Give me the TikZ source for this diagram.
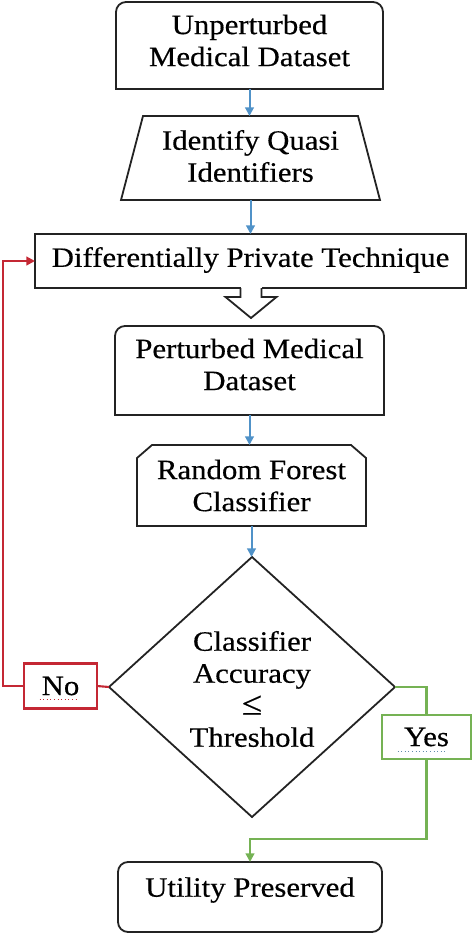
\documentclass[tikz,border=0pt]{standalone}
\usepackage{fontspec}
\setmainfont{Liberation Serif}[FakeStretch=1.1,FakeBold=0.4]
\usetikzlibrary{arrows.meta,calc}
\definecolor{flowblue}{RGB}{80,146,200}
\definecolor{flowred}{RGB}{196,40,52}
\definecolor{flowgreen}{RGB}{117,178,84}
\definecolor{edge}{RGB}{35,35,35}
\begin{document}
\begin{tikzpicture}[x=0.75pt,y=-0.75pt,
  frame/.style={draw=none,rectangle,inner sep=0pt,outer sep=0pt},
  txt/.style={inner sep=0pt,outer sep=0pt,align=center,
     font=\fontsize{21pt}{24pt}\selectfont},
  outline/.style={draw=edge,line width=1.35pt,line join=miter,line cap=rect},
  blueconn/.style={draw=flowblue,line width=1.5pt,-{Triangle[length=6.5pt,width=6.5pt]}},
  redconn/.style={draw=flowred,line width=1.6pt},
  greenconn/.style={draw=flowgreen,line width=1.6pt},
  tagbox/.style={rectangle,line width=2pt,inner sep=0pt,outer sep=0pt,
     font=\fontsize{21pt}{24pt}\selectfont},
]
\useasboundingbox (0,0) rectangle (472,933);

% frames
\node[frame,minimum width=200.25pt,minimum height=65.25pt] (n1) at (249.5,45.5) {};
\node[frame,minimum width=194.25pt,minimum height=63pt] (n2) at (250.5,158) {};
\node[frame,minimum width=323.25pt,minimum height=40.5pt] (n3) at (250.5,261) {};
\node[frame,minimum width=201.75pt,minimum height=66.75pt] (n4) at (249.5,370.5) {};
\node[frame,minimum width=171.75pt,minimum height=60.75pt] (n5) at (251.5,485.5) {};
\node[frame,minimum width=214.5pt,minimum height=195pt] (n6) at (252,687) {};
\node[frame,minimum width=198pt,minimum height=52.5pt] (n7) at (250,897) {};
\node[tagbox,draw=flowred,minimum width=54.75pt,minimum height=33.75pt] (no) at (60.5,686) {No};
\node[tagbox,draw=flowgreen,minimum width=66.75pt,minimum height=33pt] (yes) at (426.5,737) {Yes};

% texts
\node[txt] (t1) at ($(n1)+(0,-5)$) {Unperturbed\\Medical Dataset};
\node[txt] (t2) at ($(n2)+(0,-2)$) {Identify Quasi\\Identifiers};
\node[txt] (t3) at ($(n3)+(0,-1)$) {Differentially Private Technique};
\node[txt] (t4) at ($(n4)+(0,-6)$) {Perturbed Medical\\Dataset};
\node[txt] (t5) at ($(n5)+(0,0)$) {Random Forest\\Classifier};
\node[txt] (t6) at ($(n6)+(0,2)$) {Classifier\\Accuracy\\{\fontsize{25pt}{24pt}\selectfont ≤}\\Threshold};
\node[txt] (t7) at ($(n7)+(0,-7)$) {Utility Preserved};

% outlines
\draw[outline,rounded corners=7.5pt] (n1.south west) -- (n1.north west) -- (n1.north east) -- (n1.south east);
\draw[outline] (n1.south west) -- (n1.south east);
\draw[outline] (n2.south west) -- ([xshift=16.5pt]n2.north west) -- ([xshift=-16.5pt]n2.north east) -- (n2.south east) -- cycle;
\draw[outline] (n3.south west) rectangle (n3.north east);
\draw[outline,rounded corners=7.5pt] (n4.south west) -- (n4.north west) -- (n4.north east) -- (n4.south east);
\draw[outline] (n4.south west) -- (n4.south east);
\draw[outline] (n5.south west) -- ([yshift=-9.75pt]n5.north west) -- ([xshift=11.25pt]n5.north west) -- ([xshift=-11.25pt]n5.north east) -- ([yshift=-9.75pt]n5.north east) -- (n5.south east) -- cycle;
\draw[outline] (n6.north) -- (n6.east) -- (n6.south) -- (n6.west) -- cycle;
\draw[outline,rounded corners=7.5pt] (n7.south west) rectangle (n7.north east);

% block arrow below n3
\fill[white] ($(n3.south)+(-10,-1.5)$) rectangle ($(n3.south)+(11,9)$);
\draw[outline,line cap=butt] ($(n3.south)+(-10,0)$) -- ($(n3.south)+(-10,9)$) -- ($(n3.south)+(-25,9)$) -- ($(n3.south)+(0.5,30)$) -- ($(n3.south)+(26,9)$) -- ($(n3.south)+(11,9)$) -- ($(n3.south)+(11,0)$);

% blue connectors
\draw[blueconn] (n1.south) -- (n1.south |- n2.north);
\draw[blueconn] (n2.south) -- (n2.south |- n3.north);
\draw[blueconn] (n4.south) -- (n4.south |- n5.north);
\draw[blueconn] (n5.south) -- (n5.south |- n6.north);

% No branch
\draw[redconn] (n6.west) -- (no.east);
\draw[redconn,-{Triangle[length=6.5pt,width=6.5pt]}] (no.west) -- ++(-21,0) |- (n3.west);

% Yes branch
\draw[greenconn] (n6.east) -| (yes.north);
\draw[greenconn,-{Triangle[length=6.5pt,width=6.5pt]}] (yes.south) -- ++(0,80) -| (n7.north);

% proofing underlines
\draw[flowred,dotted,line width=0.7pt] ($(no.center)+(-21,13)$) -- ($(no.center)+(16,13)$);
\draw[flowblue!60!gray,dotted,line width=0.7pt] ($(yes.center)+(-29,14)$) -- ($(yes.center)+(18,14)$);
\end{tikzpicture}
\end{document}
